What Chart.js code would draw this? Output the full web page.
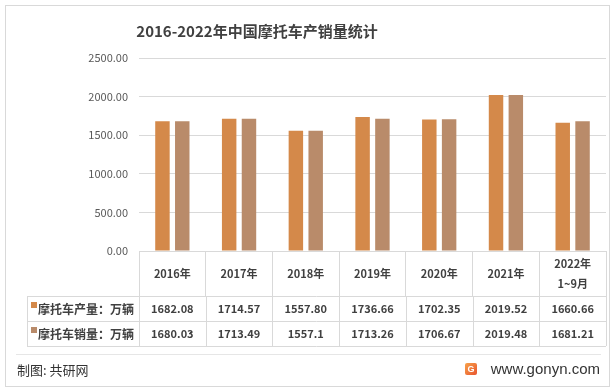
<!DOCTYPE html>
<html>
<head>
<meta charset="utf-8">
<script src="https://cdn.jsdelivr.net/npm/chart.js@4/dist/chart.umd.min.js"></script>
<style>
  html, body { margin: 0; padding: 0; background: #fff; }
  #wrap { position: relative; width: 615px; height: 392px; overflow: hidden; font-family: 'Noto Sans CJK SC', 'Noto Sans', sans-serif; }
  #frame { position: absolute; left: 5px; top: 5px; width: 603px; height: 380px; border: 1px solid #d9d9d9; }
  #chart { position: absolute; left: 0; top: 0; }
  #title { position: absolute; left: 0; top: 19px; width: 514px; text-align: center; font-size: 15px; font-weight: bold; color: #404040; line-height: 24px; }
  #rule { position: absolute; left: 16px; top: 354px; width: 585px; height: 1px; background: #e6e6e6; }
  #source { position: absolute; left: 17px; top: 361px; font-size: 13px; color: #333; line-height: 18px; }
  #site { position: absolute; right: 15px; top: 360px; font-family: 'Liberation Sans', Arial, sans-serif; font-size: 15px; color: #333; line-height: 18px; }
  #logo { position: absolute; left: 465px; top: 363px; width: 12px; height: 12px; background: linear-gradient(135deg, #f7a24a, #e8542e); border-radius: 2px; color: #fff; font: bold 9px 'Liberation Sans', sans-serif; text-align: center; line-height: 12px; }
</style>
</head>
<body>
<div id="wrap">
  <div id="frame"></div>
  <canvas id="chart" width="615" height="392"></canvas>
  <div id="title">2016-2022年中国摩托车产销量统计</div>
  <div id="rule"></div>
  <div id="source">制图: 共研网</div>
  <div id="logo">G</div>
  <div id="site">www.gonyn.com</div>
</div>
<script>
// categories (years) and the two series, in 万辆
const years = ['2016年', '2017年', '2018年', '2019年', '2020年', '2021年', ['2022年', '1~9月']]
const production = [1682.08, 1714.57, 1557.80, 1736.66, 1702.35, 2019.52, 1660.66]
const sales = [1680.03, 1713.49, 1557.1, 1713.26, 1706.67, 2019.48, 1681.21]
const seriesNames = ['摩托车产量：万辆', '摩托车销量：万辆']
const yTicks = [0, 500, 1000, 1500, 2000, 2500]

const lineColor = '#d9d9d9'
const textColor = '#404040'
const headerHeight = 45
const rowHeight = 25
const labelLeft = 27

// formatting of the values as shown in the table
const formats = [v => v.toFixed(2), v => String(v)]

Chart.defaults.font.family = "'Noto Sans CJK SC', 'Noto Sans', sans-serif"

// draws the two data rows of the table under the x axis
const dataTable = {
  id: 'dataTable',
  afterDraw(chart) {
    const ctx = chart.ctx
    const x = chart.scales.x
    const area = chart.chartArea
    const n = chart.data.labels.length
    const step = (x.right - x.left) / n
    const top = area.bottom + headerHeight
    const bottom = top + rowHeight * chart.data.datasets.length

    ctx.save()
    ctx.strokeStyle = lineColor
    ctx.lineWidth = 1
    ctx.beginPath()
    for (let r = 0; r <= chart.data.datasets.length; r++) {
      const y = Math.round(top + r * rowHeight) + 0.5
      ctx.moveTo(labelLeft, y)
      ctx.lineTo(x.right, y)
    }
    ctx.moveTo(labelLeft + 0.5, top)
    ctx.lineTo(labelLeft + 0.5, bottom)
    for (let i = 0; i <= n; i++) {
      const px = Math.round(x.left + step * i) + 0.5
      ctx.moveTo(px, top)
      ctx.lineTo(px, bottom)
    }
    ctx.stroke()

    chart.data.datasets.forEach((ds, r) => {
      const rowTop = top + r * rowHeight
      const cy = rowTop + rowHeight / 2 + 0.5
      ctx.fillStyle = ds.backgroundColor
      ctx.fillRect(labelLeft + 4, rowTop + 6, 6, 6)
      ctx.fillStyle = textColor
      ctx.font = "bold 12px 'Noto Sans CJK SC', sans-serif"
      ctx.textAlign = 'left'
      ctx.textBaseline = 'middle'
      ctx.fillText(ds.label, labelLeft + 11, cy)
      ctx.font = "bold 11px 'Noto Sans CJK SC', sans-serif"
      ctx.textAlign = 'center'
      ds.data.forEach((v, i) => {
        ctx.fillText(formats[r](v), x.getPixelForValue(i), cy)
      })
    })
    ctx.restore()
  }
}

new Chart(document.getElementById('chart'), {
  type: 'bar',
  data: {
    labels: years,
    datasets: [
      {
        label: seriesNames[0],
        data: production,
        backgroundColor: '#d4894a'
      },
      {
        label: seriesNames[1],
        data: sales,
        backgroundColor: '#b98b6a'
      }
    ]
  },
  options: {
    responsive: false,
    animation: false,
    devicePixelRatio: 1,
    layout: {
      padding: { top: 58, right: 9, bottom: 0, left: 0 }
    },
    categoryPercentage: 0.594,
    barPercentage: 0.73,
    plugins: {
      legend: { display: false },
      tooltip: { enabled: false }
    },
    scales: {
      x: {
        offset: true,
        grid: {
          offset: true,
          drawOnChartArea: false,
          drawTicks: true,
          tickLength: headerHeight,
          color: lineColor
        },
        border: { display: true, color: lineColor },
        ticks: {
          padding: -32,
          crossAlign: 'center',
          maxRotation: 0,
          autoSkip: false,
          color: textColor,
          font: { size: 11, weight: 'bold', lineHeight: '20px' }
        },
        afterFit(scale) {
          scale.height = 141
        }
      },
      y: {
        min: yTicks[0],
        max: yTicks[yTicks.length - 1],
        afterBuildTicks(scale) {
          scale.ticks = yTicks.map(v => ({ value: v }))
        },
        grid: { color: lineColor, drawTicks: false },
        border: { display: false },
        ticks: {
          padding: 11,
          color: '#595959',
          font: { size: 11 },
          callback: v => v.toFixed(2)
        },
        afterFit(scale) {
          scale.width = 139
        }
      }
    }
  },
  plugins: [dataTable]
})
</script>
</body>
</html>
